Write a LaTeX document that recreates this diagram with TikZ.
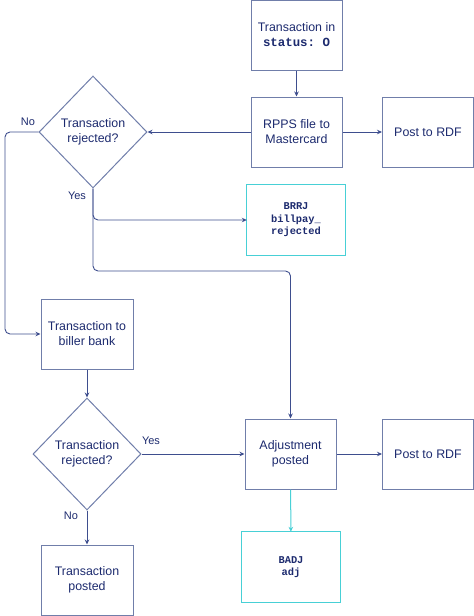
\documentclass[tikz,border=0pt]{standalone}
\usepackage{fontspec}
\setmainfont{Liberation Sans}
\setmonofont{Liberation Mono}
\usetikzlibrary{shapes.geometric,arrows.meta}
\definecolor{ink}{RGB}{28,42,110}
\definecolor{edge}{RGB}{112,126,170}
\definecolor{wire}{RGB}{62,78,142}
\definecolor{aqua}{RGB}{72,208,214}
\tikzset{
	stepbox/.style={draw=edge, line width=1pt, text=ink, align=center, inner sep=0pt,
		minimum width=91pt, minimum height=70pt, font=\fontsize{12.4}{15}\selectfont},
	codebox/.style={text=ink, align=center, inner sep=0pt,
		minimum width=98pt, minimum height=70pt, font=\fontsize{10.4}{12.5}\selectfont\ttfamily\bfseries},
	codeframe/.style={draw=aqua, line width=1.1pt},
	decide/.style={stepbox, shape=diamond, minimum width=108pt, minimum height=112pt},
	flow/.style={draw=wire, line width=0.9pt, rounded corners=5pt, -{Stealth[length=5pt,width=4.5pt]}},
	tag/.style={text=ink, font=\fontsize{11}{13}\selectfont}
}
\begin{document}
\begin{tikzpicture}[x=1pt,y=-1pt]
	\useasboundingbox (0,0) rectangle (474,616);
	% boxes
	\node[stepbox] (status) at (296.5,35) {Transaction in\\{\ttfamily\bfseries status: O}};
	\node[stepbox] (rpps) at (296.5,132) {RPPS file to\\Mastercard};
	\node[stepbox] (rdfa) at (428,132) {Post to RDF};
	\node[stepbox, minimum width=92pt] (biller) at (87,334) {Transaction to\\biller bank};
	\node[stepbox, minimum width=92pt] (posted) at (87,580) {Transaction\\posted};
	\node[stepbox] (adj) at (290.5,454) {Adjustment\\posted};
	\node[stepbox] (rdfb) at (428,454) {Post to RDF};
	% questions
	\node[decide] (askA) at (93,132) {Transaction\\rejected?};
	\node[decide] (askB) at (87,454) {Transaction\\rejected?};
	% reason codes
	\node[codebox] (brrj) at (296,220) {BRRJ\\billpay\string_\\rejected};
	\node[codebox] (badj) at (291,567) {BADJ\\adj};
	\draw[codeframe] (brrj.north west) rectangle (brrj.south east);
	\draw[codeframe] (badj.north west) rectangle (badj.south east);
	\coordinate (nobend) at (5,132);
	\coordinate (yesbend) at (93,271);
	% connectors
	\draw[flow] (status) -- (rpps);
	\draw[flow] (rpps) -- (rdfa);
	\draw[flow] (rpps) -- (askA);
	\draw[flow] (askA.west) -- (nobend) |- (biller.west);
	\draw[flow] (askA.south) |- (brrj.west);
	\draw[flow] (askA.south) -- (yesbend) -| (adj.north);
	\draw[flow] (biller) -- (askB);
	\draw[flow] (askB.east) -- (adj.west);
	\draw[flow] (askB.south) -- (posted.north);
	\draw[flow] (adj) -- (rdfb);
	\draw[flow, draw=aqua, line width=1pt] (adj) -- (badj);
	% branch labels
	\node[tag] at (28,122) {No};
	\node[tag] at (77,196) {Yes};
	\node[tag] at (151,441) {Yes};
	\node[tag] at (71,516) {No};
\end{tikzpicture}
\end{document}
